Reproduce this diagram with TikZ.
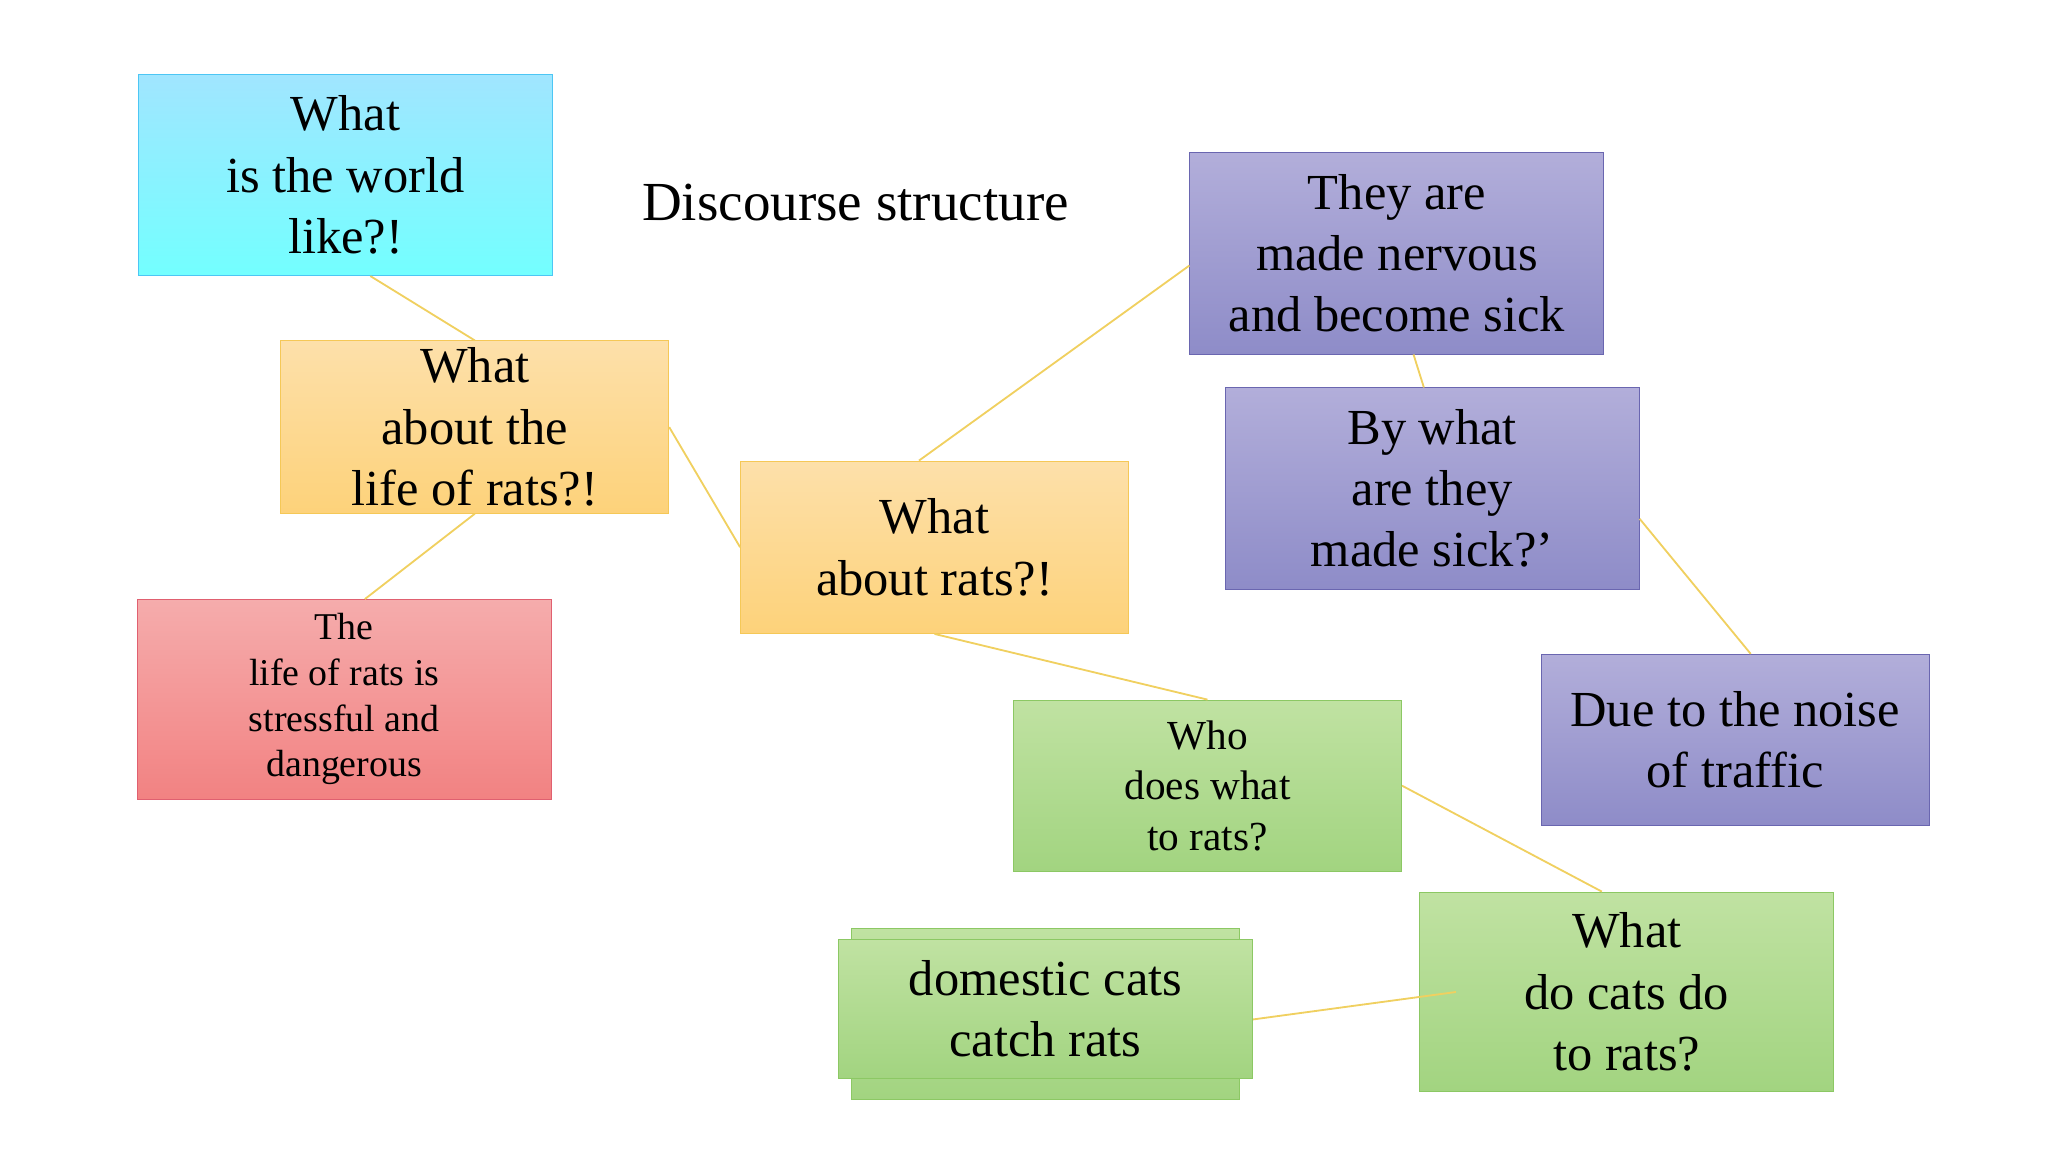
\documentclass[tikz,border=0pt]{standalone}
\usepackage{fontspec}
\setmainfont{Liberation Serif}
\usetikzlibrary{calc}
\definecolor{ln}{HTML}{F0D060}
\tikzset{
 bx/.style={draw, align=center, inner sep=0pt, font=\fontsize{22}{26.7}\selectfont},
 blu/.style={bx, top color=cyan!30!white!90!blue, bottom color=cyan!55, draw=cyan!70},
 org/.style={bx, top color={rgb,255:red,253;green,224;blue,170}, bottom color={rgb,255:red,253;green,210;blue,122}, draw={rgb,255:red,245;green,200;blue,87}},
 rd/.style={bx, top color={rgb,255:red,245;green,172;blue,172}, bottom color={rgb,255:red,242;green,130;blue,130}, draw={rgb,255:red,224;green,96;blue,112}},
 pur/.style={bx, top color={rgb,255:red,178;green,174;blue,218}, bottom color={rgb,255:red,142;green,140;blue,200}, draw={rgb,255:red,106;green,102;blue,176}},
 grn/.style={bx, top color={rgb,255:red,192;green,226;blue,162}, bottom color={rgb,255:red,162;green,212;blue,128}, draw={rgb,255:red,140;green,200;blue,100}},
 con/.style={draw=ln, line width=0.8pt}
}
\begin{document}
\begin{tikzpicture}[x=0.02cm,y=-0.02cm]
\useasboundingbox (0,0) rectangle (1568,882);
\newcommand{\bxat}[6]{\node[#1, minimum width={(#4-#2)*0.02cm}, minimum height={(#5-#3)*0.02cm}] (#6) at ({(#2+#4)/2},{(#3+#5)/2})}
\bxat{blu}{106}{57}{423}{211}{blue} {What\\is the world\\like?!};
\node[font=\fontsize{24}{28}\selectfont] (title) at (655,155) {Discourse structure};
\bxat{org}{215}{261}{512}{393}{lifeq} {What\\about the\\life of rats?!};
\bxat{rd,font=\fontsize{16.5}{19.9}\selectfont}{105}{459}{422}{612}{red} {The\\life of rats is\\stressful and\\dangerous};
\bxat{org}{567}{353}{864}{485}{ratsq} {What\\about rats?!};
\bxat{pur}{911}{117}{1228}{271}{p1} {They are\\made nervous\\and become sick};
\bxat{pur}{938}{297}{1255}{451}{p2} {By what\\are they\\made sick?'};
\bxat{pur}{1180}{501}{1477}{632}{p3} {Due to the noise\\of traffic};
\bxat{grn,font=\fontsize{18}{22}\selectfont}{776}{536}{1073}{667}{g1} {Who\\does what\\to rats?};
\bxat{grn}{1087}{683}{1404}{836}{g2} {What\\do cats do\\to rats?};
\bxat{grn}{652}{711}{949}{842}{g3b} {};
\bxat{grn}{642}{719}{959}{826}{g3} {domestic cats\\catch rats};
\coordinate (c1) at (283,211); \coordinate (c2) at (362,261);
\draw[con] ($(blue.south west)!0.56!(blue.south east)$) -- (lifeq.north);
\draw[con] (lifeq.south) -- ($(red.north west)!0.55!(red.north east)$);
\draw[con] (lifeq.east) -- ($(ratsq.south west)!0.5!(ratsq.north west)$);
\draw[con] ($(ratsq.north west)!0.46!(ratsq.north east)$) -- ($(p1.south west)!0.44!(p1.north west)$);
\draw[con] ($(p1.south west)!0.54!(p1.south east)$) -- ($(p2.north west)!0.48!(p2.north east)$);
\draw[con] ($(p2.south east)!0.35!(p2.north east)$) -- ($(p3.north west)!0.54!(p3.north east)$);
\draw[con] ($(ratsq.south west)!0.5!(ratsq.south east)$) -- ($(g1.north west)!0.5!(g1.north east)$);
\draw[con] (g1.east) -- ($(g2.north west)!0.44!(g2.north east)$);
\draw[con] ($(g3.east)+(0,8)$) -- ($(g2.west)+(28,0)$);
\end{tikzpicture}
\end{document}
